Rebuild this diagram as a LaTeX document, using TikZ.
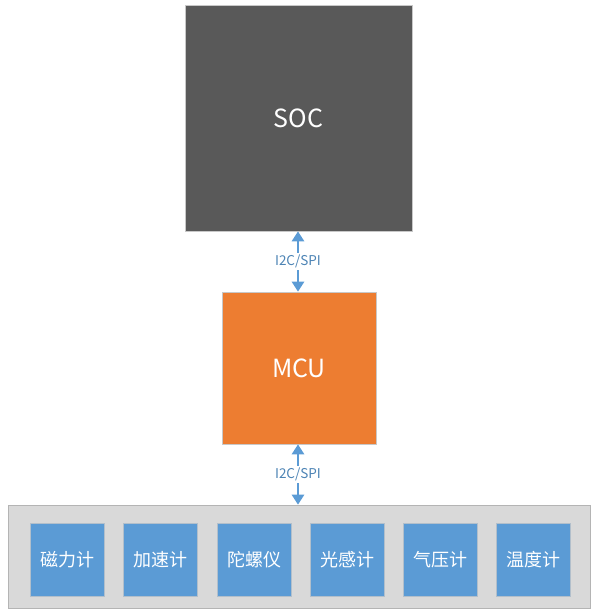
\documentclass[tikz,border=0pt]{standalone}
\usepackage{fontspec}
\setmainfont{Noto Sans CJK SC}
\newfontfamily\cjk{Noto Sans CJK SC}
\usetikzlibrary{arrows.meta}
\definecolor{socgray}{HTML}{595959}
\definecolor{mcuorange}{HTML}{ED7D31}
\definecolor{sensblue}{HTML}{5B9BD5}
\definecolor{boxgray}{HTML}{D9D9D9}
\definecolor{edgegray}{HTML}{C8C8C8}
\tikzset{
  bigbox/.style={draw=edgegray, line width=0.6pt, inner sep=0pt, text=white, font=\fontsize{25}{30}\selectfont},
  sensbox/.style={draw=edgegray!80!sensblue, line width=0.5pt, fill=sensblue, minimum width=74pt, minimum height=73pt, inner sep=0pt, text=white, font=\cjk\fontsize{18}{22}\selectfont},
  busline/.style={draw=sensblue, line width=2.6pt, {Triangle[width=12pt,length=10pt]}-{Triangle[width=12pt,length=10pt]}},
  buslabel/.style={fill=white, text=sensblue!85!black, font=\fontsize{13.5}{16}\selectfont, inner sep=1.5pt}
}
\begin{document}
\begin{tikzpicture}[x=1pt,y=-1pt]
\useasboundingbox (0,0) rectangle (597,614);
\node[bigbox, fill=socgray, minimum width=227pt, minimum height=226pt] (soc) at (298.5,118) {SOC};
\node[bigbox, fill=mcuorange, minimum width=154pt, minimum height=152pt] (mcu) at (299,368) {MCU};
\node[draw=edgegray!90!black, line width=0.6pt, fill=boxgray, minimum width=582pt, minimum height=103pt, inner sep=0pt] (bus) at (299,556.5) {};
\node[sensbox] (s1) at (67,559.5) {磁力计};
\node[sensbox] (s2) at (160.5,559.5) {加速计};
\node[sensbox] (s3) at (254,559.5) {陀螺仪};
\node[sensbox] (s4) at (347,559.5) {光感计};
\node[sensbox] (s5) at (440,559.5) {气压计};
\node[sensbox] (s6) at (533.5,559.5) {温度计};
\draw[busline] (soc.south -| 298,0) -- node[buslabel] (l1) {I2C/SPI} (mcu.north -| 298,0);
\draw[busline] (mcu.south -| 298,0) -- node[buslabel] (l2) {I2C/SPI} (bus.north -| 298,0);
\end{tikzpicture}
\end{document}
